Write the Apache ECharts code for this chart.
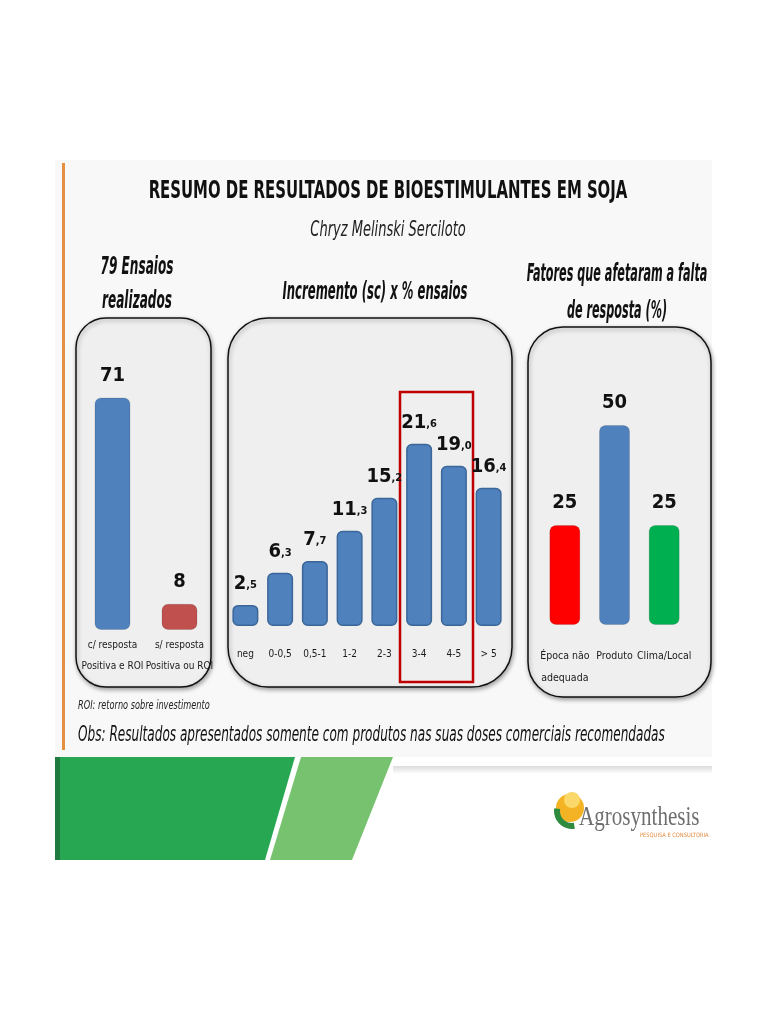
<!DOCTYPE html>
<html>
<head>
<meta charset="utf-8">
<script src="https://cdn.jsdelivr.net/npm/echarts@6/dist/echarts.min.js"></script>
<style>
  html, body { margin: 0; padding: 0; background: #ffffff; }
  #chart { width: 768px; height: 1024px; }
</style>
</head>
<body>
<div id="chart"></div>
<script>
// data
const ensaiosCats = ['c/ resposta\nPositiva e ROI', 's/ resposta\nPositiva ou ROI']
const ensaiosVals = [71, 8]

const incrementoCats = ['neg', '0-0,5', '0,5-1', '1-2', '2-3', '3-4', '4-5', '> 5']
const incrementoVals = [2.5, 6.3, 7.7, 11.3, 15.2, 21.6, 19.0, 16.4]

const fatoresCats = ['Época não\nadequada', 'Produto', 'Clima/Local']
const fatoresVals = [25, 50, 25]

const NARROW = "'Liberation Sans Narrow', 'DejaVu Sans Condensed', 'Roboto', sans-serif"
const BLUE = '#4f81bd'
const BLUE_EDGE = '#3b6699'
const ensaiosColors = ['#4f81bd', '#c0504d']
const fatoresColors = ['#ff0000', '#4f81bd', '#00b050']

const chart = echarts.init(document.getElementById('chart'))

// big integer part + small decimal part, like the slide
function splitLabel(p) {
  const parts = p.value.toFixed(1).split('.')
  return '{a|' + parts[0] + '}{b|,' + parts[1] + '}'
}

function catAxis(idx, cats, fontSize, margin, lineHeight) {
  return {
    type: 'category',
    gridIndex: idx,
    data: cats,
    z: 10,
    axisLine: { show: false },
    axisTick: { show: false },
    axisLabel: {
      interval: 0,
      margin: margin,
      fontFamily: NARROW,
      fontSize: fontSize,
      lineHeight: lineHeight,
      color: '#1a1a1a'
    }
  }
}

function valAxis(idx, max) {
  return {
    type: 'value',
    gridIndex: idx,
    min: 0,
    max: max,
    show: false,
    splitLine: { show: false }
  }
}

// text squeezed horizontally, the slide uses a condensed face
function textEl(x, y, text, size, sx, style) {
  return {
    type: 'text',
    x: x,
    y: y,
    z: 5,
    scaleX: sx,
    style: Object.assign({
      text: text,
      fontFamily: NARROW,
      fontSize: size,
      fontWeight: 'bold',
      fontStyle: 'italic',
      fill: '#111',
      textAlign: 'center',
      textVerticalAlign: 'middle'
    }, style || {})
  }
}

function box(x, y, w, h, r) {
  return {
    type: 'rect',
    z: 1,
    shape: { x: x, y: y, width: w, height: h, r: r },
    style: {
      fill: '#efefef',
      stroke: '#111',
      lineWidth: 1.5,
      shadowBlur: 4,
      shadowOffsetX: 1,
      shadowOffsetY: 2,
      shadowColor: 'rgba(0,0,0,0.35)'
    }
  }
}

const option = {
  backgroundColor: '#ffffff',
  animation: false,
  grid: [
    { left: 79, top: 368, width: 134, height: 262 },
    { left: 228, top: 373, width: 278, height: 253 },
    { left: 540, top: 425, width: 149, height: 200 }
  ],
  xAxis: [
    catAxis(0, ensaiosCats, 10, 5, 21),
    catAxis(1, incrementoCats, 10, 21, 14),
    catAxis(2, fatoresCats, 10.5, 20, 22)
  ],
  yAxis: [valAxis(0, 80), valAxis(1, 30), valAxis(2, 50)],
  graphic: [
    // slide background
    { type: 'rect', z: 0, shape: { x: 55, y: 160, width: 657, height: 597 }, style: { fill: '#f8f8f8' } },
    { type: 'rect', z: 0, shape: { x: 62, y: 163, width: 3, height: 587 }, style: { fill: '#e39040' } },
    // footer
    { type: 'polygon', z: 0, shape: { points: [[55, 757], [295, 757], [265, 860], [55, 860]] }, style: { fill: '#28a753' } },
    { type: 'rect', z: 0, shape: { x: 55, y: 757, width: 5, height: 103 }, style: { fill: '#1f7a3f' } },
    { type: 'polygon', z: 0, shape: { points: [[301, 757], [393, 757], [352, 860], [270, 860]] }, style: { fill: '#77c26f' } },
    {
      type: 'rect', z: 0, shape: { x: 393, y: 766, width: 319, height: 8 },
      style: {
        fill: new echarts.graphic.LinearGradient(0, 0, 0, 1, [
          { offset: 0, color: '#dcdcdc' }, { offset: 1, color: '#ffffff' }
        ])
      }
    },
    // logo
    { type: 'circle', z: 2, shape: { cx: 570, cy: 808, r: 14 }, style: { fill: '#f4b324' } },
    { type: 'circle', z: 2, shape: { cx: 572, cy: 800, r: 8 }, style: { fill: '#fbd86a' } },
    { type: 'arc', z: 3, shape: { cx: 572, cy: 811, r: 15, startAngle: Math.PI * 0.45, endAngle: Math.PI * 1.05 }, style: { stroke: '#2e8b3e', lineWidth: 6, fill: null } },
    textEl(579, 831, 'Agrosynthesis', 27, 0.78, { fontFamily: "'Liberation Serif', 'DejaVu Serif', serif", fontWeight: 'normal', fontStyle: 'normal', fill: '#6f6f6f', textAlign: 'left', textVerticalAlign: 'bottom' }),
    textEl(640, 835, 'PESQUISA E CONSULTORIA', 6, 0.95, { fontWeight: 'normal', fontStyle: 'normal', fill: '#e58a3c', textAlign: 'left' }),
    // titles
    textEl(388, 192, 'RESUMO DE RESULTADOS DE BIOESTIMULANTES EM SOJA', 24, 0.69, { fontStyle: 'normal' }),
    textEl(388, 231, 'Chryz Melinski Serciloto', 21, 0.69, { fontWeight: 'normal', fill: '#222' }),
    textEl(137, 268, '79 Ensaios', 24, 0.56),
    textEl(137, 302, 'realizados', 24, 0.56),
    textEl(375, 293, 'Incremento (sc) x % ensaios', 24, 0.54),
    textEl(617, 275, 'Fatores que afetaram a falta', 24, 0.52),
    textEl(617, 312, 'de resposta (%)', 24, 0.52),
    // panels
    box(76, 318, 135, 369, 30),
    box(228, 318, 284, 369, 40),
    box(528, 327, 183, 370, 35),
    // highlight of the 3-5 sc range
    { type: 'rect', z: 6, shape: { x: 400, y: 392, width: 73, height: 290 }, style: { fill: null, stroke: '#c00000', lineWidth: 2.5 } },
    // notes
    textEl(78, 706, 'ROI: retorno sobre investimento', 13, 0.7, { fontWeight: 'normal', fill: '#222', textAlign: 'left' }),
    textEl(78, 736, 'Obs: Resultados apresentados somente com produtos nas suas doses comerciais recomendadas', 21, 0.64, { fontWeight: 'normal', textAlign: 'left' })
  ],
  series: [
    {
      type: 'bar',
      xAxisIndex: 0,
      yAxisIndex: 0,
      z: 10,
      barWidth: 36,
      data: ensaiosVals,
      itemStyle: {
        color: p => ensaiosColors[p.dataIndex],
        borderColor: 'rgba(0,0,0,0.12)',
        borderWidth: 1,
        borderRadius: 6
      },
      label: {
        show: true,
        position: 'top',
        distance: 12,
        fontFamily: NARROW,
        fontWeight: 'bold',
        fontSize: 20,
        color: '#111'
      }
    },
    {
      type: 'bar',
      xAxisIndex: 1,
      yAxisIndex: 1,
      z: 10,
      barWidth: 26,
      data: incrementoVals,
      itemStyle: {
        color: BLUE,
        borderColor: BLUE_EDGE,
        borderWidth: 1.5,
        borderRadius: 5
      },
      label: {
        show: true,
        position: 'top',
        distance: 11,
        formatter: splitLabel,
        rich: {
          a: { fontFamily: NARROW, fontWeight: 'bold', fontSize: 20, color: '#111', verticalAlign: 'bottom' },
          b: { fontFamily: NARROW, fontWeight: 'bold', fontSize: 11, color: '#111', verticalAlign: 'bottom', padding: [0, 0, 3, 0] }
        }
      }
    },
    {
      type: 'bar',
      xAxisIndex: 2,
      yAxisIndex: 2,
      z: 10,
      barWidth: 31,
      data: fatoresVals,
      itemStyle: {
        color: p => fatoresColors[p.dataIndex],
        borderColor: 'rgba(0,0,0,0.12)',
        borderWidth: 1,
        borderRadius: 6
      },
      label: {
        show: true,
        position: 'top',
        distance: 12,
        fontFamily: NARROW,
        fontWeight: 'bold',
        fontSize: 20,
        color: '#111'
      }
    }
  ]
}

chart.setOption(option)
</script>
</body>
</html>
